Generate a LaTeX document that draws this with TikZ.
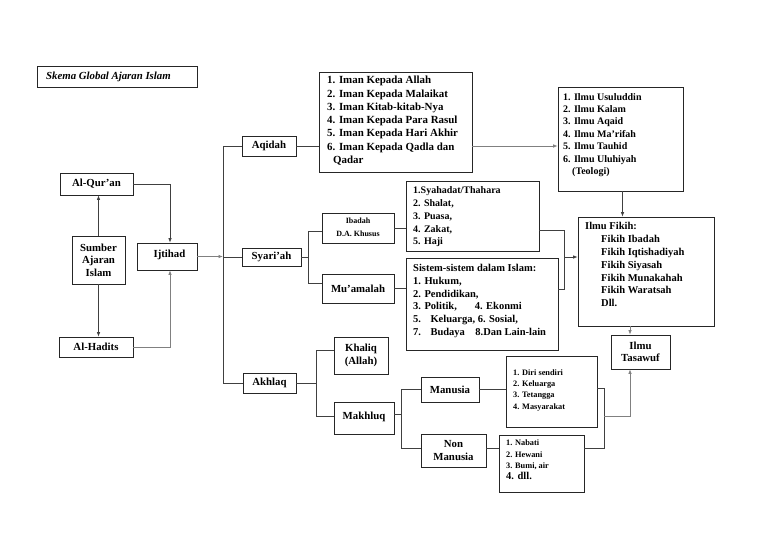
\documentclass[tikz,border=0pt]{standalone}
\usepackage{fontspec}
\setmainfont{Liberation Serif}
\usetikzlibrary{arrows.meta}
\begin{document}
\begin{tikzpicture}[x=1pt,y=-1pt,
  box/.style={draw=black!85, line width=0.75pt, inner sep=0pt, align=center, font=\fontsize{10.8}{12.5}\selectfont\bfseries},
  bb/.style n args={4}{minimum width={#3-#1}, minimum height={#4-#2}, at={({(#1+#3)/2},{(#2+#4)/2})}},
  lst/.style={anchor=north west, inner sep=0pt, align=left, font=\fontsize{10.5}{12.8}\selectfont\bfseries},
  small/.style={anchor=north west, inner sep=0pt, align=left, font=\fontsize{8.3}{11.2}\selectfont\bfseries},
  ln/.style={draw=black!75, line width=0.75pt},
  gln/.style={draw=black!50, line width=0.75pt},
  arr/.style={-{Latex[length=4.5pt,width=3.5pt]}}]
\useasboundingbox[fill=white] (0,0) rectangle (768,543);

% title
\node[box, bb={37}{66}{197}{87}] (title) {};
\node[anchor=west, inner sep=0pt, font=\fontsize{10.8}{12}\selectfont\bfseries\itshape] (titletext) at (46,76.5) {Skema Global Ajaran Islam};

% sources
\node[box, bb={60}{173}{133}{195}] (quran) {Al-Qur'an};
\node[box, bb={72}{236}{125}{284}] (sumber) {Sumber\\Ajaran\\Islam};
\node[box, bb={59}{337}{133}{357}] (hadits) {Al-Hadits};
\node[box, bb={137}{243}{197}{270}] (ijt) {\hspace*{5pt}\raisebox{5pt}{Ijtihad}};

% aqidah
\node[box, bb={242}{136}{296}{156}] (aqidah) {Aqidah};
\node[box, bb={319}{72}{472}{172}] (aqlist) {};
\node[lst, font=\fontsize{10.9}{13.3}\selectfont\bfseries] (aqtext) at (327,76) {1. Iman Kepada Allah\\2. Iman Kepada Malaikat\\3. Iman Kitab-kitab-Nya\\4. Iman Kepada Para Rasul\\5. Iman Kepada Hari Akhir\\6. Iman Kepada Qadla dan\\\hspace*{6pt}Qadar};
\node[box, bb={558}{87}{683}{191}] (ilmu) {};
\node[lst, font=\fontsize{10}{12.4}\selectfont\bfseries] (ilmutext) at (563,93) {1. Ilmu Usuluddin\\2. Ilmu Kalam\\3. Ilmu Aqaid\\4. Ilmu Ma'rifah\\5. Ilmu Tauhid\\6. Ilmu Uluhiyah\\\hspace*{9pt}(Teologi)};

% syariah
\node[box, bb={242}{248}{301}{266}] (syariah) {Syari'ah};
\node[box, bb={322}{213}{394}{243}, font=\fontsize{8}{12.5}\selectfont\bfseries] (ibadah) {\raisebox{2pt}{Ibadah}\\\raisebox{2pt}{D.A. Khusus}};
\node[box, bb={406}{181}{539}{251}] (iblist) {};
\node[lst, font=\fontsize{10}{12.8}\selectfont\bfseries] (ibtext) at (413,186.5) {1.Syahadat/Thahara\\2. Shalat,\\3. Puasa,\\4. Zakat,\\5. Haji};
\node[box, bb={322}{274}{394}{303}] (muam) {Mu'amalah};
\node[box, bb={406}{258}{558}{350}] (mulist) {};
\node[lst] (mutext) at (413,264) {Sistem-sistem dalam Islam:\\1. Hukum,\\2. Pendidikan,\\3. Politik,\hspace{1.7em}4. Ekonmi\\5.\hspace{0.9em}Keluarga, 6. Sosial,\\7.\hspace{0.9em}Budaya\hspace{1em}8.Dan Lain-lain};
\node[box, bb={578}{217}{714}{326}] (fikih) {};
\node[lst] (fiktext) at (585,222.5) {Ilmu Fikih:\\\hspace*{16pt}Fikih Ibadah\\\hspace*{16pt}Fikih Iqtishadiyah\\\hspace*{16pt}Fikih Siyasah\\\hspace*{16pt}Fikih Munakahah\\\hspace*{16pt}Fikih Waratsah\\\hspace*{16pt}Dll.};
\node[box, bb={611}{335}{670}{369}] (tasawuf) {Ilmu\\Tasawuf};

% akhlaq
\node[box, bb={243}{373}{296}{393}] (akhlaq) {Akhlaq};
\node[box, bb={334}{337}{388}{374}] (khaliq) {Khaliq\\(Allah)};
\node[box, bb={334}{402}{394}{434}] (makhluq) {\raisebox{4pt}{Makhluq}};
\node[box, bb={421}{377}{479}{402}] (manusia) {Manusia};
\node[box, bb={421}{434}{486}{467}] (nonman) {Non\\Manusia};
\node[box, bb={506}{356}{597}{427}] (manlist) {};
\node[small] (mantext) at (513,369.5) {1. Diri sendiri\\2. Keluarga\\3. Tetangga\\4. Masyarakat};
\node[box, bb={499}{435}{584}{492}] (nonlist) {};
\node[small] (nontext) at (506,440) {1. Nabati\\2. Hewani\\3. Bumi, air\\{\fontsize{10.5}{13}\selectfont 4. dll.}};

% branch coordinates
\coordinate (bus) at (223,0);
\coordinate (sbr) at (308,0);
\coordinate (fbr) at (564,0);
\coordinate (akbr) at (316,0);
\coordinate (mbr) at (401,0);
\coordinate (nbr) at (604,0);
\coordinate (tcol) at (630,0);

% connectors: sources
\draw[ln,arr] (sumber.north) -- (sumber.north |- quran.south);
\draw[ln,arr] (sumber.south) -- (sumber.south |- hadits.north);
\draw[ln,arr] (quran.east) -| ([xshift=3pt]ijt.north);
\draw[gln,arr] (hadits.east) -| ([xshift=3pt]ijt.south);
\draw[gln,arr] (ijt.east) -- (ijt.east -| bus);

% bus
\draw[ln] (aqidah.west) -| (bus |- akhlaq.west) -- (akhlaq.west);
\draw[ln] (bus |- syariah.west) -- (syariah.west);

% aqidah
\draw[ln] (aqidah.east) -- (aqidah.east -| aqlist.west);
\draw[gln,arr] (aqlist.east |- aqidah.east) -- (ilmu.west |- aqidah.east);
\draw[ln,arr] ([xshift=2pt]ilmu.south) -- ([xshift=2pt]ilmu.south |- fikih.north);

% syariah
\draw[ln] (syariah.east) -- (sbr |- syariah.east);
\draw[ln] (ibadah.west |- 0,231) -| (sbr |- 0,283) -- (muam.west |- 0,283);
\draw[ln] (ibadah.east) -- (ibadah.east -| iblist.west);
\draw[ln] (muam.east) -- (muam.east -| mulist.west);
\draw[ln] (iblist.east |- 0,230) -| (fbr |- 0,289) -- (mulist.east |- 0,289);
\draw[ln,arr] (fbr |- 0,257) -- (fikih.west |- 0,257);
\draw[gln,arr] (tcol |- fikih.south) -- (tcol |- tasawuf.north);

% akhlaq
\draw[ln] (akhlaq.east) -- (akbr |- akhlaq.east);
\draw[ln] (khaliq.west |- 0,350) -| (akbr |- 0,416) -- (makhluq.west |- 0,416);
\draw[ln] (makhluq.east |- 0,414) -- (mbr |- 0,414);
\draw[ln] (manusia.west) -| (mbr |- 0,448) -- (nonman.west |- 0,448);
\draw[ln] (manusia.east) -- (manusia.east -| manlist.west);
\draw[ln] (nonman.east |- 0,448) -- (nonlist.west |- 0,448);
\draw[ln] (manlist.east |- 0,388) -| (nbr |- 0,448) -- (nonlist.east |- 0,448);
\draw[gln,arr] (nbr |- 0,416) -| (tcol |- tasawuf.south);
\end{tikzpicture}
\end{document}
